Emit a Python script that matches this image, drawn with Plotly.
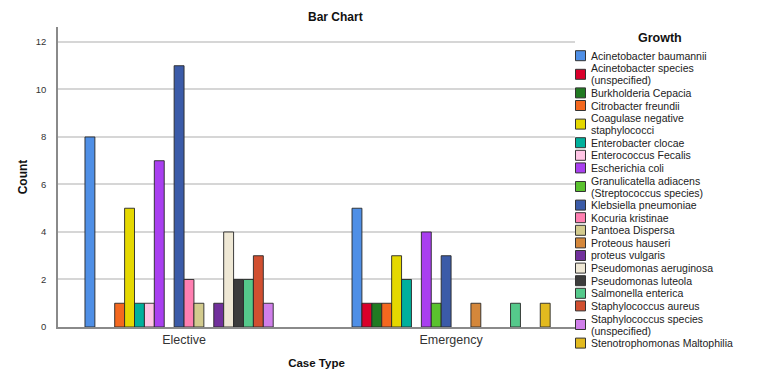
import plotly.graph_objects as go

categories = ["Elective", "Emergency"]
organisms = [
    "Acinetobacter baumannii",
    "Acinetobacter species<br>(unspecified)",
    "Burkholderia Cepacia",
    "Citrobacter freundii",
    "Coagulase negative<br>staphylococci",
    "Enterobacter clocae",
    "Enterococcus Fecalis",
    "Escherichia coli",
    "Granulicatella adiacens<br>(Streptococcus species)",
    "Klebsiella pneumoniae",
    "Kocuria kristinae",
    "Pantoea Dispersa",
    "Proteous hauseri",
    "proteus vulgaris",
    "Pseudomonas aeruginosa",
    "Pseudomonas luteola",
    "Salmonella enterica",
    "Staphylococcus aureus",
    "Staphylococcus species<br>(unspecified)",
    "Stenotrophomonas Maltophilia",
]
elective = [8, 0, 0, 1, 5, 1, 1, 7, 0, 11, 2, 1, 0, 1, 4, 2, 2, 3, 1, 0]
emergency = [5, 1, 1, 1, 3, 2, 0, 4, 1, 3, 0, 0, 1, 0, 0, 0, 1, 0, 0, 1]
colors = [
    "#4F8FE6", "#D9002B", "#217A22", "#F4681F", "#E5D800",
    "#00B09C", "#FFC5E5", "#A93FF0", "#5AC22E", "#3B5BA8",
    "#FF7FB1", "#D3CB8E", "#D4873B", "#71309C", "#EFE8D5",
    "#3C3C3C", "#55C98B", "#D14F30", "#D07FEA", "#E2BA1F",
]
y_ticks = [0, 2, 4, 6, 8, 10, 12]

W, H = 768, 381
L, R, T, B = 58, 575, 27, 327
FONT = "Liberation Sans, Arial, sans-serif"

fig = go.Figure()
for name, e, m, c in zip(organisms, elective, emergency, colors):
    vals = [v if v != 0 else None for v in (e, m)]
    fig.add_trace(go.Bar(
        x=categories, y=vals, name=name.replace("<br>", " "),
        marker=dict(color=c, line=dict(color="rgba(40,40,40,0.9)", width=1)),
        showlegend=False,
    ))

# manual legend (compact spacing like the original)
shapes = []
annotations = []
def px_x(p):
    return (p - L) / (R - L)
def px_y(p):
    return (B - p) / (B - T)

annotations.append(dict(text="<b>Growth</b>", x=px_x(660), y=px_y(38), xref="paper", yref="paper",
                        showarrow=False, font=dict(size=12.5, color="#111", family=FONT),
                        xanchor="center", yanchor="middle"))
h1, line_gap = 12.6, 12.0
cy = 55.7 - h1 / 2
for name, c in zip(organisms, colors):
    lines = name.split("<br>")
    n = len(lines)
    h = h1 + line_gap * (n - 1)
    center = cy + h / 2
    shapes.append(dict(type="rect", xref="paper", yref="paper",
                       x0=px_x(575.5), x1=px_x(585.5), y0=px_y(center - 5), y1=px_y(center + 5),
                       fillcolor=c, line=dict(color="#333", width=1)))
    for k, ln in enumerate(lines):
        ly = center + (k - (n - 1) / 2) * line_gap
        annotations.append(dict(text=ln, x=px_x(589), y=px_y(ly), xref="paper", yref="paper",
                                showarrow=False, xanchor="left", yanchor="middle",
                                font=dict(size=10.5, color="#222", family=FONT)))
    cy += h

annotations.append(dict(text="<b>Bar Chart</b>", x=px_x(335), y=px_y(17), xref="paper", yref="paper",
                        showarrow=False, xanchor="center", yanchor="middle",
                        font=dict(size=12, color="#111", family=FONT)))

fig.update_layout(
    width=W, height=H,
    margin=dict(l=L, r=W - R, t=T, b=H - B, pad=0),
    paper_bgcolor="white", plot_bgcolor="white",
    barmode="group", bargap=0.258, bargroupgap=0,
    font=dict(family=FONT, color="#222"),
    shapes=shapes, annotations=annotations,
    showlegend=False,
    xaxis=dict(
        type="category", range=[-0.472, 1.464],
        showline=True, linecolor="#8a8a8a", linewidth=1.5,
        ticks="", tickfont=dict(size=12.5, color="#333"),
        title=dict(text="<b>Case Type</b>", font=dict(size=11.5, color="#111"), standoff=13),
        showgrid=False, fixedrange=True,
    ),
    yaxis=dict(
        range=[0, 12.63], tickvals=y_ticks,
        showline=True, linecolor="#8a8a8a", linewidth=1.5,
        showgrid=True, gridcolor="#D6D6D6", gridwidth=1.5,
        zeroline=False, ticks="", ticklabelstandoff=8,
        tickfont=dict(size=9.5, color="#333"),
        title=dict(text="<b>Count</b>", font=dict(size=12, color="#111"), standoff=6),
    ),
)

fig.write_html("out.html")
